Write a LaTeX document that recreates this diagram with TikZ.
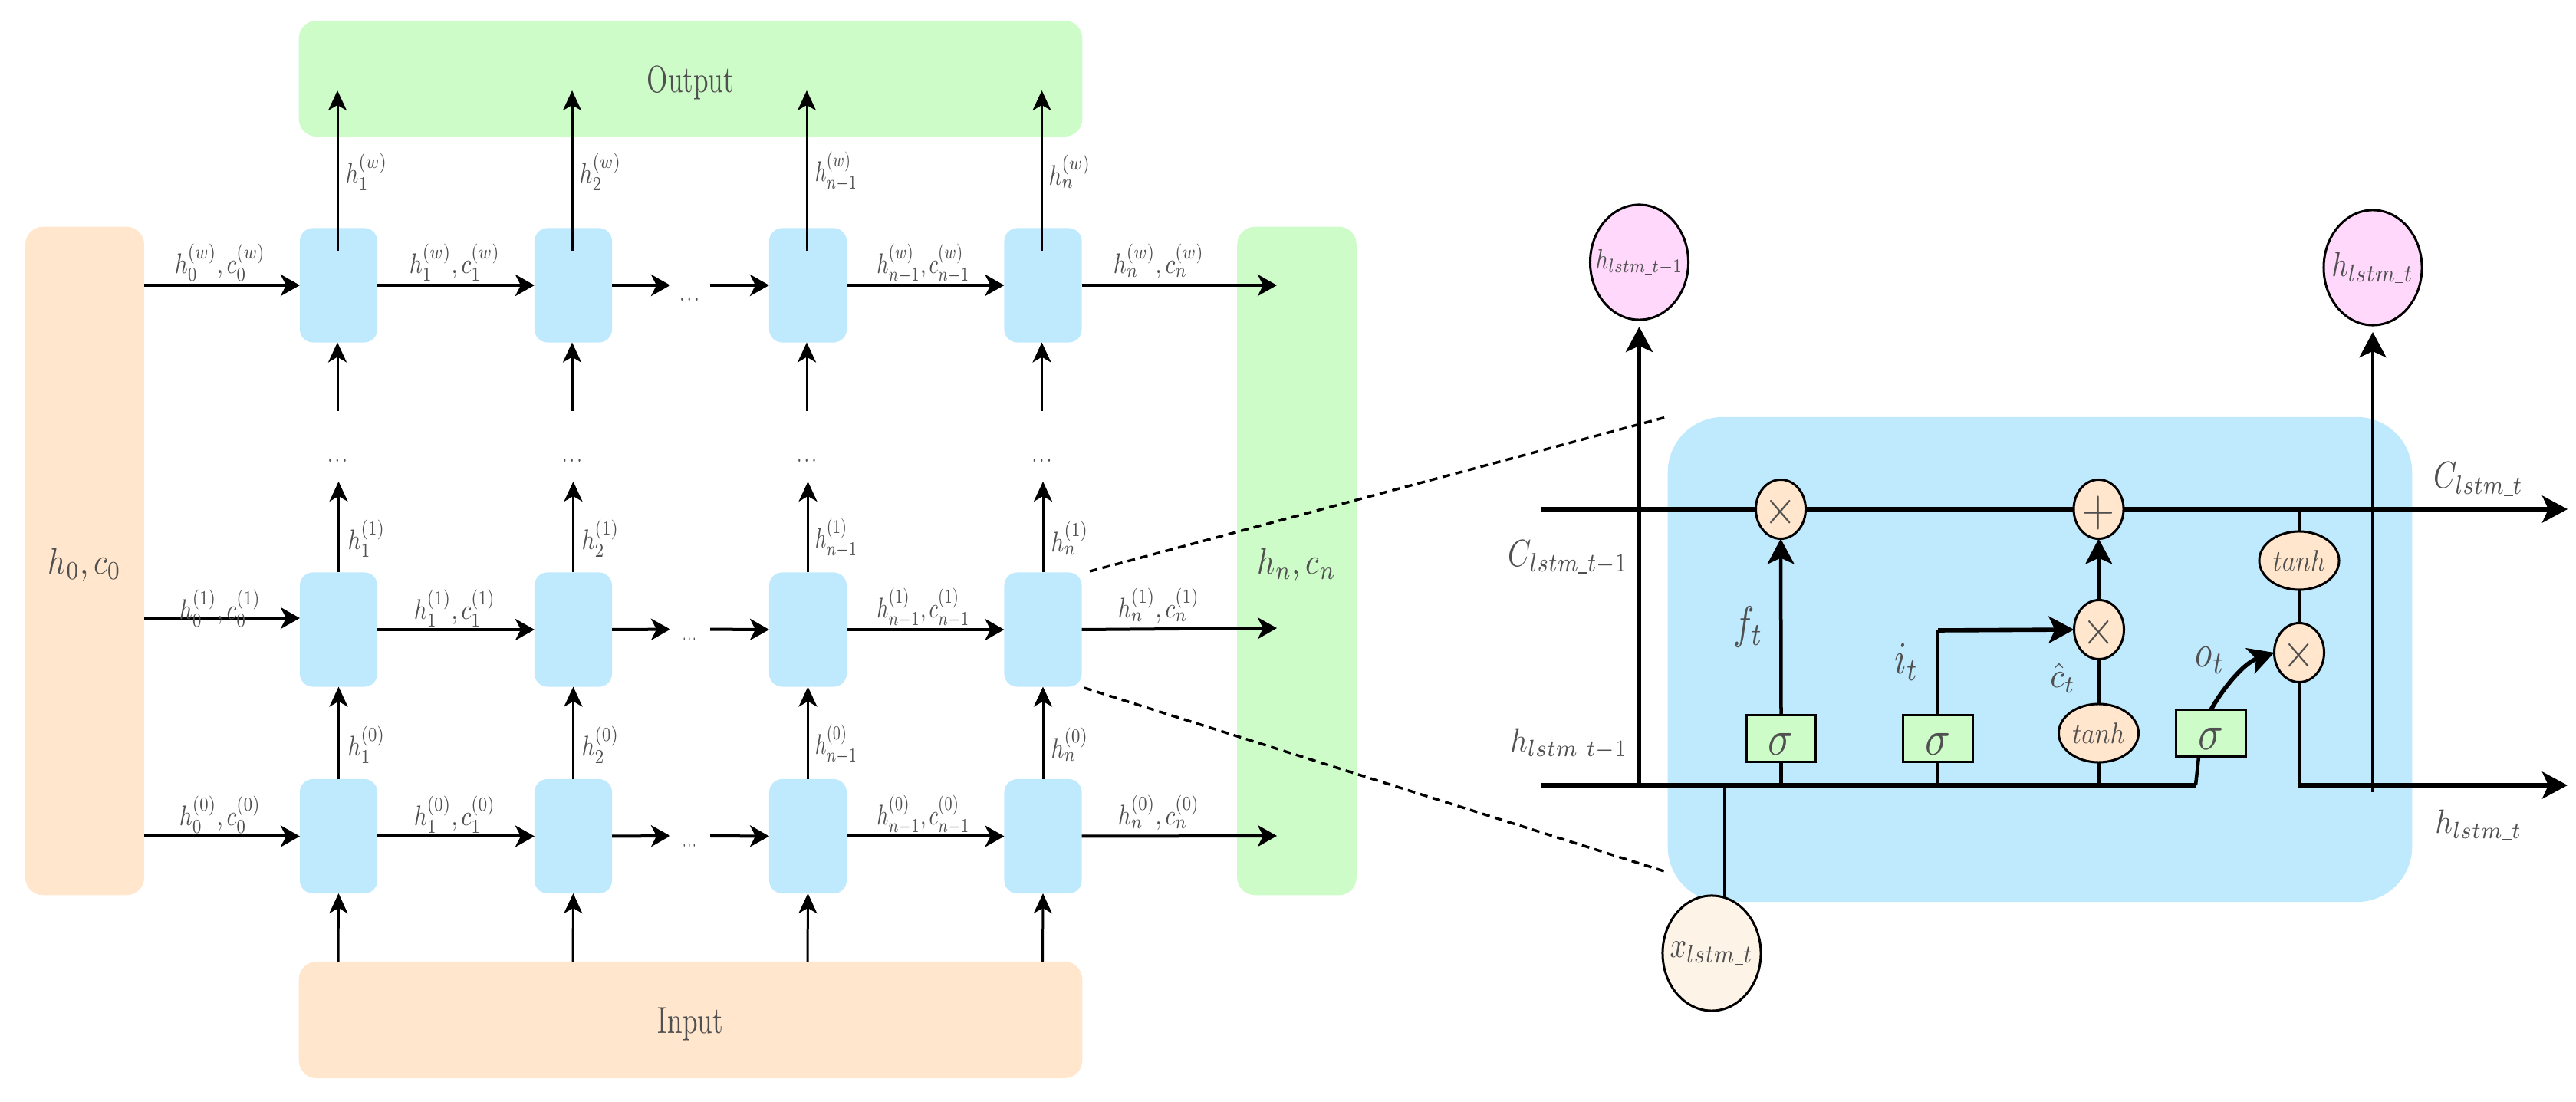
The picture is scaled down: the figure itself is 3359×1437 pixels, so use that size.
\documentclass[tikz,border=0pt]{standalone}
\usepackage{graphicx}
\usetikzlibrary{arrows.meta,shapes.geometric}

\definecolor{cellblue}{HTML}{BFE9FD}
\definecolor{boxgreen}{HTML}{CEFCC8}
\definecolor{boxorange}{HTML}{FFE6CC}
\definecolor{boxpink}{HTML}{FFD8FB}
\definecolor{boxcream}{HTML}{FDF3E7}
\definecolor{txt}{HTML}{505050}

% x/y scaled text, the source picture is stretched
\newcommand\sx[3]{\scalebox{#1}[#2]{\textcolor{txt}{#3}}}
% text without size, so that it does not grow its node; optional arg moves it down
\newcommand\cbox[2][0pt]{\makebox[0pt]{\raisebox{0pt}[0pt][0pt]{\setbox0=\hbox{#2}\lower\dimexpr(\ht0-\dp0)/2+#1\relax\box0}}}
\newcommand\hpair[2]{\sx{.84}{1.05}{$h_{#1}^{(#2)},c_{#1}^{(#2)}$}}
\newcommand\hpairl[2]{\sx{.75}{1.05}{$h_{#1}^{(#2)},c_{#1}^{(#2)}$}}
\newcommand\hone[2]{\sx{.84}{1.05}{$h_{#1}^{(#2)}$}}
\newcommand\honel[2]{\sx{.73}{1.05}{$h_{#1}^{(#2)}$}}
\newcommand\us{\rule[-0.5pt]{3pt}{0.3pt}}
\newcommand\opx{\cbox[1pt]{\sx{1.55}{1.8}{$\times$}}}
\newcommand\sig{\cbox[2pt]{\sx{1.55}{1.85}{$\sigma$}}}
\newcommand\tnh{\cbox{\sx{.94}{1.1}{$tanh$}}}

\tikzset{
  box/.style={inner sep=0pt, outer sep=0pt, rounded corners=0.23cm},
  cell/.style={box, fill=cellblue, minimum width=1.01cm, minimum height=1.49cm, rounded corners=0.17cm},
  lab/.style={inner sep=0pt, outer sep=0pt},
  harr/.style={line width=0.04cm, -{Stealth[length=0.25cm,width=0.28cm,inset=0.07cm]}},
  varr/.style={line width=0.03cm, -{Stealth[length=0.26cm,width=0.24cm,inset=0.07cm]}},
  thick line/.style={line width=0.056cm},
  thin line/.style={line width=0.045cm},
  big tip/.style={-{Stealth[length=0.33cm,width=0.35cm,inset=0.08cm]}},
  zoom line/.style={line width=0.034cm, dash pattern=on 0.1cm off 0.07cm},
  oval/.style={ellipse, draw=black, line width=0.03cm, inner sep=0pt, outer sep=0pt},
  big oval/.style={oval, minimum width=1.28cm, minimum height=1.5cm},
  op/.style={oval, fill=boxorange, minimum width=0.65cm, minimum height=0.77cm},
  tanh oval/.style={oval, fill=boxorange, minimum width=1.04cm, minimum height=0.76cm},
  sig box/.style={draw=black, line width=0.03cm, fill=boxgreen, inner sep=0pt, outer sep=0pt,
    minimum width=0.9cm, minimum height=0.61cm}
}

\begin{document}
\begin{tikzpicture}[x=0.01cm, y=-0.01cm]
\useasboundingbox (0,0) rectangle (3359,1437);

% big boxes of the left part
\node[box, fill=boxorange, minimum width=1.55cm, minimum height=8.71cm] (h0) at (110.5,731.5) {\cbox[1.4pt]{\sx{1.15}{1.37}{$h_0,c_0$}}};
\node[box, fill=boxgreen, minimum width=1.555cm, minimum height=8.71cm] (hn) at (1691,731.5) {\cbox[1.4pt]{\sx{1.15}{1.37}{$h_n,c_n$}}};
\node[box, fill=boxgreen, minimum width=10.21cm, minimum height=1.51cm] (out) at (900.5,102.5) {\cbox[1.5pt]{\sx{1}{1.4}{Output}}};
\node[box, fill=boxorange, minimum width=10.21cm, minimum height=1.52cm] (inp) at (900.5,1330) {\cbox[1.5pt]{\sx{1}{1.4}{Input}}};

% cells
\foreach \c/\x in {1/441.5,2/747.5,3/1053.5,4/1360}{
  \node[cell] (t\c) at (\x,372) {};
  \node[cell] (m\c) at (\x,821) {};
  \node[cell] (b\c) at (\x,1090.5) {};
  % vertical arrows
  \coordinate (o\c) at (\x-1.5,118);
  \coordinate (s\c) at (\x-1.5,327);
  \coordinate (u\c) at (\x-1.5,536);
  \draw[varr] (s\c) -- (o\c);
  \draw[varr] (u\c) -- (s\c |- t\c.south);
  \draw[varr] (m\c.north) -- (\x,628);
  \draw[varr] (b\c.north) -- (m\c.south);
  \draw[varr] (\x-0.5,1254) -- (b\c.south);
  \node[lab] (vd\c) at (\x-1.5,601) {\sx{.62}{1}{$\ldots$}};
}

% horizontal arrows
\coordinate (r1) at (1665,372);
\coordinate (r2) at (1665,819);
\coordinate (r3) at (1665,1090);
\foreach \r/\y/\yd/\sc in {t/372/391/.62,m/820.6/834/.42,b/1090/1103/.42}{
  \draw[harr] (\r1.east) -- (\r2.west);
  \draw[harr] (\r3.east) -- (\r4.west);
  \coordinate (a\r) at (874,\y);
  \coordinate (e\r) at (926,\y);
  \draw[harr] (\r2.east) -- (a\r);
  \draw[harr] (e\r) -- (\r3.west);
  \node[lab] (hd\r) at (899,\yd) {\sx{\sc}{1}{$\ldots$}};
}
\draw[harr] (h0.east |- t1.west) -- (t1.west);
\draw[harr] (h0.east |- b1.west) -- (b1.west);
\coordinate (h0m) at (h0.east |- 0,806);
\draw[harr] (h0m) -- (m1.west |- h0m);
\draw[harr] (t4.east) -- (r1);
\draw[harr] (m4.east) -- (r2);
\draw[harr] (b4.east) -- (r3);

% labels of the left part
\foreach \lev/\row/\ya/\yb/\yc in {w/t/342/344/341,1/m/793/793/790,0/b/1062/1063/1060}{
  \node[lab] (p0\row) at (287,\ya) {\hpair{0}{\lev}};
  \node[lab] (p1\row) at (593,\ya) {\hpair{1}{\lev}};
  \node[lab] (p2\row) at (1204,\yb) {\hpairl{n-1}{\lev}};
  \node[lab] (p3\row) at (1511,\yc) {\hpair{n}{\lev}};
}
\foreach \lev/\row/\y in {w/t/224,1/m/702,0/b/971}{
  \node[lab] (q1\row) at (478,\y) {\hone{1}{\lev}};
  \node[lab] (q2\row) at (783,\y) {\hone{2}{\lev}};
  \node[lab] (q3\row) at (1090.5,\y) {\honel{n-1}{\lev}};
  \node[lab] (q4\row) at (1395,\y) {\hone{n}{\lev}};
}

% right part: background
\node[box, fill=cellblue, minimum width=9.7cm, minimum height=6.32cm, rounded corners=0.72cm] (lstm) at (2660,860) {};

% zoom lines
\coordinate (zt0) at (1421,745);
\coordinate (zt1) at (2176,543);
\coordinate (zb0) at (1414,897);
\coordinate (zb1) at (2176,1138);
\draw[zoom line] (zt0) -- (zt1);
\draw[zoom line] (zb0) -- (zb1);

% state ellipses
\node[big oval, fill=boxpink] (ph1) at (2137.5,342) {\cbox{\sx{.83}{1.03}{$h_{lstm\us t-1}$}}};
\node[big oval, fill=boxpink] (ph2) at (3094,349) {\cbox{\sx{1.06}{1.3}{$h_{lstm\us t}$}}};
\node[big oval, fill=boxcream] (xe) at (2232,1243) {\cbox{\sx{1.08}{1.35}{$x_{lstm\us t}$}}};

% gates
\node[op] (mf) at (2322,664) {\opx};
\node[op] (pl) at (2736.5,664) {\cbox[1.5pt]{\sx{1.58}{1.88}{$+$}}};
\node[op] (mi) at (2737,821) {\opx};
\node[op] (mo) at (2998,851) {\opx};
\node[tanh oval] (tc) at (2736.5,956) {\tnh};
\node[tanh oval] (to) at (2998,731) {\tnh};
\node[sig box] (sf) at (2322.5,963) {\sig};
\node[sig box] (si) at (2527,963) {\sig};
\node[sig box] (so) at (2883,956) {\sig};

% long lines
\coordinate (cl) at (2010,664);
\coordinate (cr) at (3348,664);
\coordinate (hl) at (2010,1024);
\coordinate (hm) at (2863,1024);
\coordinate (hr) at (3348,1024);
\coordinate (ho) at (2997,1024);
\draw[thick line] (cl) -- (mf.west);
\draw[thick line] (mf.east) -- (pl.west);
\draw[thick line, big tip] (pl.east) -- (cr);
\draw[thick line] (hl) -- (hm);
\draw[thick line, big tip] (ho) -- (hr);

% thin connectors
\draw[thin line, big tip, shorten >=0.09cm] (ph1.south |- hl) -- (ph1.south);
\coordinate (h2s) at (3094,1033);
\draw[thin line, big tip, shorten >=0.09cm] (h2s) -- (ph2.south);
\coordinate (xj) at (2249,1024);
\draw[thin line] (xj) -- (xj |- xe.77);
\draw[thin line] (sf.south) -- (sf.south |- hl);
\draw[thin line] (si.south) -- (si.south |- hl);
\draw[thin line] (tc.south) -- (tc.south |- hl);
\coordinate (soj) at (2867,987);
\draw[thin line] (hm) -- (soj);
\draw[thin line, big tip] (sf.north) -- (mf.south);
\draw[thin line, big tip] (mi.north) -- (pl.south);
\draw[thin line] (tc.north) -- (mi.south);
\coordinate (ci) at (2527,822);
\draw[thin line] (si.north) -- (ci);
\draw[thick line, big tip] (ci) -- (mi.west);
\draw[thick line, big tip] (so.north) .. controls (2897,900) and (2925,865) .. (mo.west);
\draw[thin line] (to.south) -- (mo.north);
\draw[thin line] (mo.south) -- (mo.south |- ho);
\draw[thin line] (to.north) -- (to.north |- cl);

% labels of the right part
\node[lab] (lc1) at (2045,727) {\sx{1.1}{1.4}{$C_{lstm\us t-1}$}};
\node[lab] (lc2) at (3232,625) {\sx{1.1}{1.4}{$C_{lstm\us t}$}};
\node[lab] (lh1) at (2046,970) {\sx{1.12}{1.25}{$h_{lstm\us t-1}$}};
\node[lab] (lh2) at (3232,1076) {\sx{1.12}{1.25}{$h_{lstm\us t}$}};
\node[lab] (lf) at (2280,818) {\sx{1.3}{1.7}{$f_t$}};
\node[lab] (li) at (2486,863) {\sx{1.3}{1.7}{$i_t$}};
\node[lab] (lcc) at (2690,884) {\sx{1.2}{1.3}{$\hat{c}_t$}};
\node[lab] (lo) at (2882,861) {\sx{1.3}{1.7}{$o_t$}};
\end{tikzpicture}
\end{document}
